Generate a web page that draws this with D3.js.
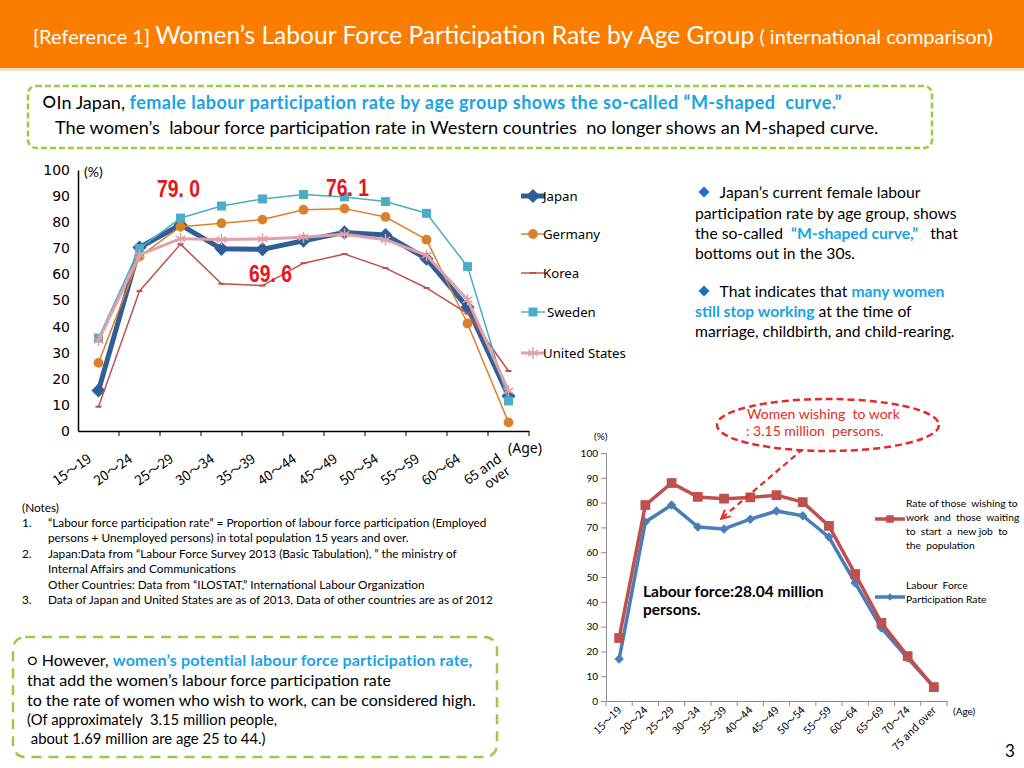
<!DOCTYPE html>
<html>
<head>
<meta charset="utf-8">
<script src="https://d3js.org/d3.v7.min.js"></script>
<style>
  body { margin: 0; background: #fff; }
  svg text { font-family: Lato, "Noto Sans", sans-serif; }
</style>
</head>
<body>
<svg id="slide" width="1024" height="768"></svg>
<script>
// ---- data: international comparison (left chart) ----
const ageGroups = ['15～19','20～24','25～29','30～34','35～39','40～44','45～49','50～54','55～59','60～64','65 and over']
const japan   = [15.5, 70.3, 79.0, 69.8, 69.6, 72.9, 76.1, 75.1, 66.0, 47.4, 13.4]
const germany = [26.1, 66.8, 78.3, 79.6, 81.0, 84.8, 85.2, 82.0, 73.3, 41.2, 3.3]
const korea   = [9.3, 53.6, 71.6, 56.4, 55.7, 64.3, 67.8, 62.4, 54.8, 45.0, 23.0]
const sweden  = [35.6, 70.0, 81.6, 86.2, 88.9, 90.6, 89.7, 87.9, 83.4, 63.0, 11.5]
const usa     = [34.7, 67.5, 73.7, 73.4, 73.6, 74.2, 75.4, 73.3, 67.3, 50.3, 15.4]
const countryNames = ['Japan','Germany','Korea','Sweden','United States']
const yTicks = [0,10,20,30,40,50,60,70,80,90,100]
const callouts = [{label:'79. 0', age:'25～29'}, {label:'69. 6', age:'35～39'}, {label:'76. 1', age:'45～49'}]

// ---- data: Japan potential labour force (right chart) ----
const ageGroups2 = ['15～19','20～24','25～29','30～34','35～39','40～44','45～49','50～54','55～59','60～64','65～69','70～74','75 and over']
const labourRate = [16.9, 72.2, 79.0, 70.2, 69.4, 73.3, 76.6, 74.7, 66.1, 47.6, 29.4, 17.3, 5.6]
const wishRate   = [25.4, 79.0, 87.9, 82.3, 81.6, 82.1, 83.0, 80.2, 70.6, 51.2, 31.5, 18.1, 5.6]

const svg = d3.select('#slide')
const blue = '#18a4e4'
const green = '#95cd45'

// small helper: text that keeps its double spaces
function txt(parent, xx, yy, size) {
  return parent.append('text').attr('x', xx).attr('y', yy).attr('font-size', size).attr('xml:space', 'preserve')
}

// ---------- title bar ----------
svg.append('rect').attr('x', 0).attr('y', 0).attr('width', 1024).attr('height', 68).attr('fill', '#fa7d00')
svg.append('rect').attr('x', 0).attr('y', 68).attr('width', 1024).attr('height', 3).attr('fill', '#fde0c2')
const title = txt(svg, 33, 44, 20).attr('fill', '#fff')
title.append('tspan').text('[Reference 1] ')
title.append('tspan').attr('font-size', 24.6).text('Women’s Labour Force Participation Rate by Age Group')
title.append('tspan').text(' ( international comparison)')

// ---------- top box ----------
svg.append('rect').attr('x', 28).attr('y', 86).attr('width', 904).attr('height', 62).attr('rx', 8)
  .attr('fill', 'none').attr('stroke', green).attr('stroke-width', 2.5).attr('stroke-dasharray', '6,3')
const t1 = txt(svg, 42, 109, 18)
t1.append('tspan').attr('font-size', 22).text('○')
t1.append('tspan').text('In Japan, ')
t1.append('tspan').attr('fill', blue).attr('font-weight', 'bold').attr('letter-spacing', 0.45)
  .text('female labour participation rate by age group shows the so-called “M-shaped  curve.”')
txt(svg, 55, 134, 18.2)
  .text('The women’s  labour force participation rate in Western countries  no longer shows an M-shaped curve.')

// ---------- left chart ----------
const x = d3.scaleBand().domain(ageGroups).range([78, 529])
const y = d3.scaleLinear().domain([0, 100]).range([431, 170])
const cx = d => x(d) + x.bandwidth() / 2

svg.append('g').attr('transform', 'translate(78,0)')
  .call(d3.axisLeft(y).tickValues(yTicks).tickSize(0).tickPadding(8))
  .call(g => g.select('.domain').attr('stroke', '#000').attr('stroke-width', 1.5))
  .call(g => g.selectAll('text').attr('font-size', 14).attr('fill', '#000').style('font-family', '"DejaVu Sans"'))

svg.append('g').attr('transform', 'translate(0,431)')
  .call(d3.axisBottom(x).tickSize(0).tickFormat(''))
  .call(g => g.select('.domain').attr('stroke', '#000').attr('stroke-width', 1.5))
svg.append('g').selectAll('line').data(ageGroups).join('line')
  .attr('x1', d => x(d) + x.bandwidth()).attr('x2', d => x(d) + x.bandwidth())
  .attr('y1', 431).attr('y2', 436).attr('stroke', '#000')

const xl = svg.append('g').selectAll('text').data(ageGroups).join('text')
  .attr('transform', d => `translate(${cx(d) - 6},${461}) rotate(-35)`)
  .attr('text-anchor', 'end').attr('font-size', 13.5)
  .style('font-family', '"Noto Sans CJK JP", sans-serif')
xl.each(function(d) {
  const parts = d === '65 and over' ? ['65 and', 'over'] : [d]
  parts.forEach((p, i) => d3.select(this).append('tspan').attr('x', 0).attr('dy', i ? '1.1em' : 0).text(p))
})

svg.append('text').attr('x', 84).attr('y', 177).attr('font-size', 14).text('(%)')
svg.append('text').attr('x', 508).attr('y', 453).attr('font-size', 14).style('font-family', '"Noto Sans"').text('(Age)')

const series = [
  {name: countryNames[0], values: japan,   color: '#2f5e99', width: 5,   symbol: d3.symbolSquare,   size: 100, rotate: 45},
  {name: countryNames[1], values: germany, color: '#d9822b', width: 1.5, symbol: d3.symbolCircle,   size: 75,  rotate: 0},
  {name: countryNames[2], values: korea,   color: '#c0504d', width: 1.5, symbol: null,              size: 0,   rotate: 0},
  {name: countryNames[3], values: sweden,  color: '#4bacc6', width: 1.5, symbol: d3.symbolSquare,   size: 80,  rotate: 0},
  {name: countryNames[4], values: usa,     color: '#dfa0a8', width: 3,   symbol: d3.symbolAsterisk, size: 90,  rotate: 0}
]
const line = d3.line().x((d, i) => cx(ageGroups[i])).y(d => y(d))

function drawMarker(g, s, px, py) {
  if (s.symbol === d3.symbolAsterisk) {
    g.append('path').attr('d', d3.symbol(s.symbol, s.size)())
      .attr('transform', `translate(${px},${py})`).attr('fill', 'none').attr('stroke', s.color).attr('stroke-width', 1.5)
  } else if (s.symbol) {
    g.append('path').attr('d', d3.symbol(s.symbol, s.size)())
      .attr('transform', `translate(${px},${py}) rotate(${s.rotate})`).attr('fill', s.color)
  } else {
    g.append('rect').attr('x', px - 3).attr('y', py - 1).attr('width', 6).attr('height', 2).attr('fill', s.color)
  }
}

series.forEach(s => {
  const g = svg.append('g')
  g.append('path').datum(s.values).attr('d', line)
    .attr('fill', 'none').attr('stroke', s.color).attr('stroke-width', s.width).attr('stroke-linejoin', 'round')
  s.values.forEach((v, i) => drawMarker(g, s, cx(ageGroups[i]), y(v)))
})

// legend
series.forEach((s, i) => {
  const ly = [196, 234, 273, 312, 353][i]
  const g = svg.append('g')
  g.append('line').attr('x1', 521).attr('x2', 545).attr('y1', ly).attr('y2', ly)
    .attr('stroke', s.color).attr('stroke-width', s.width)
  drawMarker(g, s, 533, ly)
  g.append('text').attr('x', i === 3 ? 547 : 543).attr('y', ly + 5).attr('font-size', 13.2)
    .style('font-family', '"Noto Sans"').text(s.name)
})

// red value callouts
const calloutPos = {'25～29': [157, 197], '35～39': [249, 282], '45～49': [326, 196]}
callouts.forEach(c => {
  svg.append('text').attr('x', 0).attr('y', 0)
    .attr('transform', `translate(${calloutPos[c.age][0]},${calloutPos[c.age][1]}) scale(0.88,1.08)`)
    .attr('font-size', 22).attr('font-weight', 'bold').attr('fill', '#e8141b')
    .style('font-family', '"Liberation Sans", sans-serif')
    .text(c.label)
})

// ---------- right text block ----------
const para = [
  {y: 198, parts: [['   Japan’s current female labour', null]], bullet: true},
  {y: 219, parts: [['participation rate by age group, shows', null]]},
  {y: 239, parts: [['the so-called  ', null], ['“M-shaped curve,”', blue], ['   that', null]]},
  {y: 259, parts: [['bottoms out in the 30s.', null]]},
  {y: 297, parts: [['   That indicates that ', null], ['many women', blue]], bullet: true},
  {y: 317, parts: [['still stop working', blue], [' at the time of', null]]},
  {y: 337, parts: [['marriage, childbirth, and child-rearing.', null]]}
]
para.forEach(p => {
  const t = txt(svg, 695, p.y, 15.7)
  if (p.bullet) {
    svg.append('path').attr('d', d3.symbol(d3.symbolSquare, 60)())
      .attr('transform', `translate(704,${p.y - 6}) rotate(45)`).attr('fill', '#1f6fc4')
    t.attr('x', 708)
  }
  p.parts.forEach(([s, col]) => {
    const ts = t.append('tspan').text(s)
    if (col) ts.attr('fill', col).attr('font-weight', 'bold')
  })
})

// ---------- notes ----------
const notes = svg.append('g').attr('font-size', 11.8)
notes.append('text').attr('x', 22).attr('y', 512).text('(Notes)')
const noteLines = [
  ['1.', '“Labour force participation rate” = Proportion of labour force participation (Employed', 527],
  ['', 'persons + Unemployed persons) in total population 15 years and over.', 542],
  ['2.', 'Japan:Data from “Labour Force Survey 2013 (Basic Tabulation), ” the ministry of', 558],
  ['', 'Internal Affairs and Communications', 573],
  ['', 'Other Countries: Data from “ILOSTAT,” International Labour Organization', 589],
  ['3.', 'Data of Japan and United States are as of 2013, Data of other countries are as of 2012', 604]
]
noteLines.forEach(([n, s, ly]) => {
  notes.append('text').attr('x', 22).attr('y', ly).text(n)
  notes.append('text').attr('x', 48).attr('y', ly).text(s)
})

// ---------- bottom box ----------
svg.append('rect').attr('x', 13).attr('y', 637).attr('width', 484).attr('height', 120).attr('rx', 12)
  .attr('fill', 'none').attr('stroke', green).attr('stroke-width', 2.5).attr('stroke-dasharray', '10,7')
const b1 = txt(svg, 27, 666, 16)
b1.append('tspan').text('○ However, ')
b1.append('tspan').attr('fill', blue).attr('font-weight', 'bold').attr('letter-spacing', 0.2).text('women’s potential labour force participation rate,')
txt(svg, 27, 686, 16).text('that add the women’s labour force participation rate')
txt(svg, 27, 706, 16).text('to the rate of women who wish to work, can be considered high.')
txt(svg, 27, 725, 14.8).text('(Of approximately  3.15 million people,')
txt(svg, 27, 744, 14.8).text(' about 1.69 million are age 25 to 44.)')

// ---------- right chart ----------
const x2 = d3.scaleBand().domain(ageGroups2).range([606, 947])
const y2 = d3.scaleLinear().domain([0, 100]).range([701, 453])
const cx2 = d => x2(d) + x2.bandwidth() / 2
const axisGray = '#8c8c8c'

svg.append('g').attr('transform', 'translate(606,0)')
  .call(d3.axisLeft(y2).tickValues(yTicks).tickSize(5).tickPadding(3))
  .call(g => g.selectAll('.domain, line').attr('stroke', axisGray))
  .call(g => g.selectAll('text').attr('font-size', 10).attr('fill', '#000'))
svg.append('g').attr('transform', 'translate(0,701)')
  .call(d3.axisBottom(x2).tickSize(0).tickFormat(''))
  .call(g => g.select('.domain').attr('stroke', axisGray))
svg.append('g').selectAll('line').data(['start'].concat(ageGroups2)).join('line')
  .attr('x1', d => d === 'start' ? 606 : x2(d) + x2.bandwidth())
  .attr('x2', d => d === 'start' ? 606 : x2(d) + x2.bandwidth())
  .attr('y1', 701).attr('y2', 706).attr('stroke', axisGray)
svg.append('g').selectAll('text').data(ageGroups2).join('text')
  .attr('transform', d => `translate(${cx2(d) + 3},${711}) rotate(-45)`)
  .attr('text-anchor', 'end').attr('font-size', 10.5)
  .style('font-family', '"Noto Sans CJK JP", sans-serif')
  .text(d => d)

svg.append('text').attr('x', 594).attr('y', 440).attr('font-size', 10).text('(%)')
svg.append('text').attr('x', 953).attr('y', 715).attr('font-size', 10).text('(Age)')

const series2 = [
  {values: labourRate, color: '#4a7ebb', symbol: d3.symbolSquare, size: 45, rotate: 45,
   label: ['Labour  Force', 'Participation Rate'], ly: 597, ty: 589},
  {values: wishRate, color: '#c0504d', symbol: d3.symbolSquare, size: 95, rotate: 0,
   label: ['Rate of those  wishing to', 'work  and  those  waiting', 'to  start  a  new job  to', 'the  population'], ly: 519, ty: 507}
]
const line2 = d3.line().x((d, i) => cx2(ageGroups2[i])).y(d => y2(d))
series2.forEach(s => {
  const g = svg.append('g')
  g.append('path').datum(s.values).attr('d', line2)
    .attr('fill', 'none').attr('stroke', s.color).attr('stroke-width', 3.5).attr('stroke-linejoin', 'round')
  s.values.forEach((v, i) => g.append('path').attr('d', d3.symbol(s.symbol, s.size)())
    .attr('transform', `translate(${cx2(ageGroups2[i])},${y2(v)}) rotate(${s.rotate})`).attr('fill', s.color))
  g.append('line').attr('x1', 875).attr('x2', 905).attr('y1', s.ly).attr('y2', s.ly)
    .attr('stroke', s.color).attr('stroke-width', 3.5)
  g.append('path').attr('d', d3.symbol(s.symbol, s.size * 0.6)())
    .attr('transform', `translate(890,${s.ly}) rotate(${s.rotate})`).attr('fill', s.color)
  s.label.forEach((l, i) => txt(svg, 906, s.ty + i * 14, 10.3).text(l))
})

svg.append('text').attr('x', 643).attr('y', 597).attr('font-size', 15.5).attr('font-weight', 'bold').text('Labour force:28.04 million')
svg.append('text').attr('x', 643).attr('y', 615).attr('font-size', 15.5).attr('font-weight', 'bold').text('persons.')

// callout bubble
const red = '#e52a2a'
svg.append('defs').append('marker').attr('id', 'arrow').attr('viewBox', '0 0 10 10')
  .attr('refX', 8).attr('refY', 5).attr('markerWidth', 5).attr('markerHeight', 5).attr('orient', 'auto')
  .append('path').attr('d', 'M1,1 L9,5 L1,9').attr('fill', 'none').attr('stroke', red).attr('stroke-width', 1.8)
svg.append('line').attr('x1', 803).attr('y1', 449).attr('x2', 722).attr('y2', 518)
  .attr('stroke', red).attr('stroke-width', 2.2).attr('stroke-dasharray', '6,4').attr('marker-end', 'url(#arrow)')
svg.append('ellipse').attr('cx', 828).attr('cy', 425).attr('rx', 111).attr('ry', 26)
  .attr('fill', '#fff').attr('stroke', red).attr('stroke-width', 2.5).attr('stroke-dasharray', '7,4')
txt(svg, 747, 419, 14).attr('fill', red).text('Women wishing  to work')
txt(svg, 746, 436, 14).attr('fill', red).text(': 3.15 million  persons.')

// page number
svg.append('text').attr('x', 1005).attr('y', 757).attr('font-size', 17).text('3')
</script>
</body>
</html>
